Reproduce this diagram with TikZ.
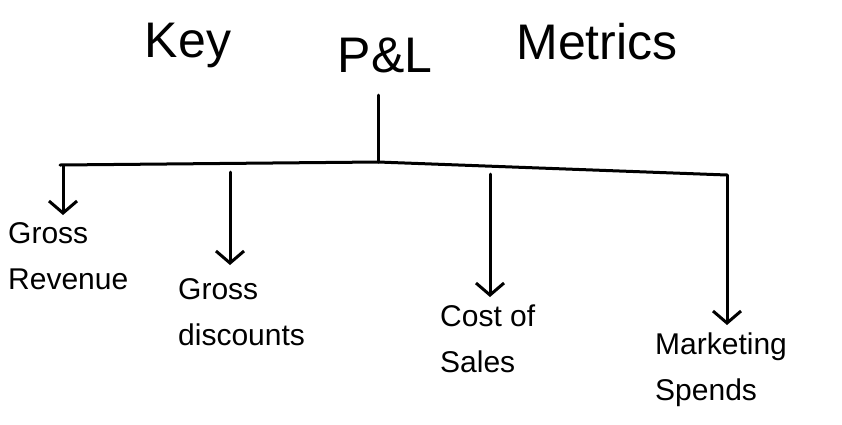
\documentclass[tikz,border=0pt]{standalone}
\usepackage{fontspec}
\setmainfont{Liberation Sans}
\usetikzlibrary{arrows.meta}
\begin{document}
\begin{tikzpicture}[x=1pt,y=-1pt,
  line/.style={line width=3pt,line cap=round},
  tip/.style={-{Straight Barb[length=12pt,width=28pt,line width=3pt]}},
  lbl/.style={font=\fontsize{30}{46}\selectfont,align=left,inner sep=0pt},
  ttl/.style={font=\fontsize{50}{56}\selectfont,inner sep=0pt}]
\useasboundingbox (0,0) rectangle (842,424);
\node[ttl] (k) at (188,45) {Key};
\node[ttl] (p) at (385,55) {P\&L};
\node[ttl] (m) at (597,42) {Metrics};
\coordinate (top) at (378,95);
\coordinate (mid) at (378,162);
\draw[line] (top) -- (mid);
\coordinate (L) at (60,165);
\coordinate (R) at (727,175);
\draw[line] (L) -- (mid) -- (R);
\coordinate (a1) at (63,166);
\coordinate (a2) at (230,172);
\coordinate (a3) at (490,174);
\coordinate (a4) at (727,175);
\node[lbl,anchor=north west] (g) at (8,222) {Gross\\Revenue};
\node[lbl,anchor=north west] (d) at (178,278) {Gross\\discounts};
\node[lbl,anchor=north west] (c) at (440,305) {Cost of\\Sales};
\node[lbl,anchor=north west] (mk) at (655,333) {Marketing\\Spends};
\draw[line,tip] (a1) -- (63,215);
\draw[line,tip] (a2) -- (230,265);
\draw[line,tip] (a3) -- (490,297);
\draw[line,tip] (a4) -- (727,325);
\end{tikzpicture}
\end{document}
